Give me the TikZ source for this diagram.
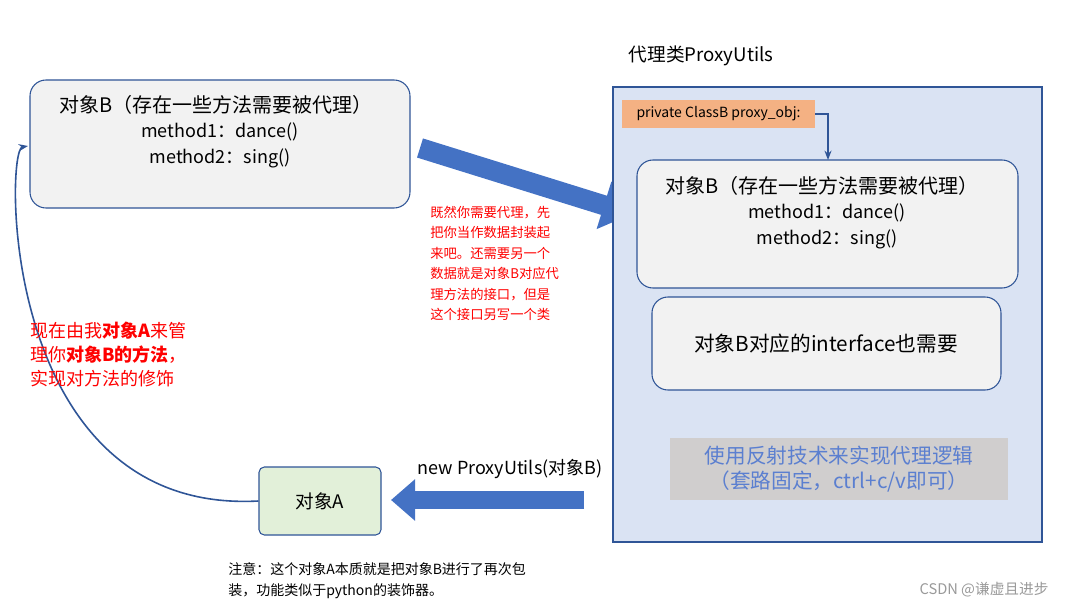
\documentclass[tikz,border=0pt]{standalone}
\usepackage{fontspec}
\setmainfont{Noto Sans CJK SC}
\usetikzlibrary{arrows.meta}
\definecolor{bord}{HTML}{2F5597}
\definecolor{blk}{HTML}{4472C4}
\definecolor{cont}{HTML}{DAE3F3}
\definecolor{boxg}{HTML}{F2F2F2}
\definecolor{orng}{HTML}{F4B183}
\definecolor{grn}{HTML}{E2F0D9}
\definecolor{gry}{HTML}{D0CECE}
\definecolor{txtb}{HTML}{5B7FD0}
\tikzset{
 rbox/.style={draw=bord,fill=boxg,rounded corners=12pt,line width=0.8pt},
 blockarrow/.style={line width=15pt,draw=blk,-{Triangle[length=22pt,width=36pt,fill=blk]}},
 lbl/.style={inner sep=0pt,anchor=west},
}
\begin{document}
\begin{tikzpicture}[x=0.75pt,y=-0.75pt]
\useasboundingbox (0,0) rectangle (1085,610);
% left B box
\draw[rbox] (30,80) rectangle (410,208);
\node (b1) at (216,105) {\fontsize{15}{17}\selectfont 对象B（存在一些方法需要被代理）};
\node at (220,132) {\fontsize{13.5}{15}\selectfont method1：dance()};
\node at (220,158) {\fontsize{13.5}{15}\selectfont method2：sing()};
\coordinate (ba1) at (420,148);
\coordinate (ba2) at (632,214);
\draw[blockarrow] (ba1) -- (ba2);
% red explanation
\node[lbl,text=red,align=left,anchor=north west,font=\fontsize{10}{15.3}\selectfont] at (430,206) {既然你需要代理，先\\把你当作数据封装起\\来吧。还需要另一个\\数据就是对象B对应代\\理方法的接口，但是\\这个接口另写一个类};
% container
\node at (701,56) {\fontsize{14}{15}\selectfont 代理类ProxyUtils};
\draw[draw=bord,fill=cont,line width=0.8pt] (613,87) rectangle (1042,542);
\node[fill=orng,minimum width=193*0.75pt,minimum height=27*0.75pt,inner sep=0pt] (po) at (718.5,114) {\fontsize{10.5}{12}\selectfont private ClassB proxy\_obj:};
\draw[rbox] (637,160) rectangle (1018,288);
\coordinate (b2top) at (828,160);
\draw[bord,line width=1.2pt,-{Stealth[length=7pt]}] (po.east) -| (b2top);
\node at (822,186) {\fontsize{15}{17}\selectfont 对象B（存在一些方法需要被代理）};
\node at (827,213) {\fontsize{13.5}{15}\selectfont method1：dance()};
\node at (827,239) {\fontsize{13.5}{15}\selectfont method2：sing()};
\draw[rbox] (652,297) rectangle (1001,390);
\node (ifc) at (826,344) {\fontsize{15.5}{17}\selectfont 对象B对应的interface也需要};
\node[fill=gry,minimum width=338*0.75pt,minimum height=62*0.75pt,inner sep=0pt,text=txtb,align=center,font=\fontsize{15.5}{19}\selectfont] (refl) at (839,469) {使用反射技术来实现代理逻辑\\（套路固定，ctrl+c/v即可）};
% object A
\node[draw=bord,fill=grn,rounded corners=4pt,line width=0.8pt,minimum width=122*0.75pt,minimum height=68*0.75pt] (a) at (320,501) {\fontsize{14}{16}\selectfont 对象A};
\coordinate (na1) at (584,500);
\coordinate (na2) at (391,500);
\draw[blockarrow,line width=13pt,-{Triangle[length=18pt,width=30pt,fill=blk]}] (na1) -- (na2);
\node at (510,469) {\fontsize{13.5}{15}\selectfont new ProxyUtils(对象B)};
% curve
\coordinate (ct) at (28,146);
\draw[bord,line width=1.2pt,-{Stealth[length=7pt]}] (a.west) .. controls (0,515) and (5,150) .. (ct);
\node[lbl,text=red,align=left,anchor=north west,font=\fontsize{13.5}{18}\selectfont] at (30,322) {现在由我\textbf{对象A}来管\\理你\textbf{对象B的方法}，\\实现对方法的修饰};
\node[lbl,align=left,anchor=north west,font=\fontsize{10.5}{16}\selectfont] at (228,562) {注意：这个对象A本质就是把对象B进行了再次包\\装，功能类似于python的装饰器。};
\node[text=gray!80,inner sep=0pt] at (984,590) {\fontsize{11}{13}\selectfont CSDN @谦虚且进步};
\end{tikzpicture}
\end{document}
